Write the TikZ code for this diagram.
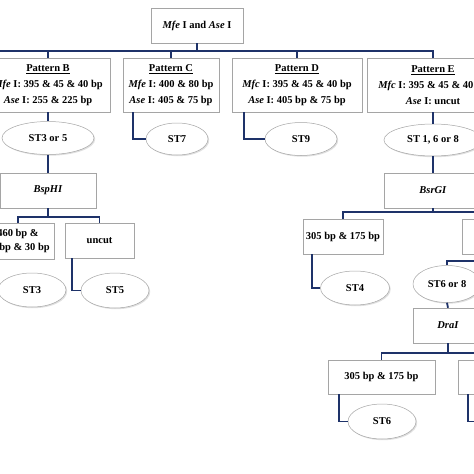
\documentclass[tikz,border=0pt]{standalone}
\usepackage{fontspec}
\setmainfont{Liberation Serif}
\usetikzlibrary{shapes.geometric,shadows}
\definecolor{LinkBlue}{RGB}{30,50,105}
\definecolor{EdgeGray}{RGB}{165,165,165}

\begin{document}
\begin{tikzpicture}[x=1pt,y=-1pt]
		\tikzstyle{Box}		= [rectangle, draw=EdgeGray, line width=0.5pt, fill=white, align=center, inner sep=2pt,
							   drop shadow={opacity=0.25, shadow xshift=1.2pt, shadow yshift=-1.2pt},
							   font=\fontsize{10.5}{16}\selectfont\bfseries]
		\tikzstyle{Oval}	= [ellipse, draw=EdgeGray, line width=0.5pt, fill=white, inner sep=0pt,
							   drop shadow={opacity=0.25, shadow xshift=1.2pt, shadow yshift=-1.2pt},
							   font=\fontsize{10.5}{16}\selectfont\bfseries]
		\tikzstyle{Link}	= [draw=LinkBlue, line width=1.8pt]

		\clip (0,0) rectangle (474,474);
		\fill [white] (0,0) rectangle (474,474);

		% first digestion
		\node (top) at (197,25.5) [Box, minimum width=92, minimum height=35] {\textit{Mfe} I and \textit{Ase} I};
		\coordinate (busA) at (-20,51);

		\node (patB) at (48,85) [Box, minimum width=124, minimum height=54]
			{\underline{Pattern B}\\ \textit{Mfe} I: 395 \& 45 \& 40 bp\\ \textit{Ase} I: 255 \& 225 bp};
		\node (patC) at (171,85) [Box, minimum width=96, minimum height=54]
			{\underline{Pattern C}\\ \textit{Mfe} I: 400 \& 80 bp\\ \textit{Ase} I: 405 \& 75 bp};
		\node (patD) at (297,85) [Box, minimum width=130, minimum height=54]
			{\underline{Pattern D}\\ \textit{Mfc} I: 395 \& 45 \& 40 bp\\ \textit{Ase} I: 405 bp \& 75 bp};
		\node (patE) at (433,85) [Box, minimum width=132, minimum height=54]
			{\underline{Pattern E}\\ \textit{Mfc} I: 395 \& 45 \& 40 bp\\ \textit{Ase} I: uncut};

		\node (st35)  at (48,138)  [Oval, minimum width=92, minimum height=33] {ST3 or 5};
		\node (st7)   at (177,139) [Oval, minimum width=62, minimum height=32] {ST7};
		\node (st9)   at (301,139) [Oval, minimum width=72, minimum height=33] {ST9};
		\node (st168) at (433,140) [Oval, minimum width=98, minimum height=32] {ST 1, 6 or 8};

		\draw (top.south) -- ++(0,8) -| (busA) [Link];
		\draw (top.south) -- ++(0,8) -| (patB.north) [Link];
		\draw (top.south) -- ++(0,8) -| (patC.north) [Link];
		\draw (top.south) -- ++(0,8) -| (patD.north) [Link];
		\draw (top.south) -- ++(0,8) -| (patE.north) [Link];

		\draw (patB.south) -- (st35.north) [Link];
		\draw ([xshift=10pt]patC.south west) |- (st7.west) [Link];
		\draw ([xshift=12pt]patD.south west) |- (st9.west) [Link];
		\draw (patE.south) -- (st168.north) [Link];

		% BspHI branch
		\node (bsp) at (48,190.5) [Box, minimum width=96, minimum height=35] {\textit{BspHI}};
		\node (fragB) at (18,241) [Box, minimum width=72, minimum height=36] {460 bp \&\\[-2pt] 20 bp \& 30 bp};
		\node (fragU) at (99.5,240.5) [Box, minimum width=69, minimum height=35] {uncut};
		\node (st3) at (32,290) [Oval, minimum width=68, minimum height=34] {ST3};
		\node (st5) at (115,290.5) [Oval, minimum width=68, minimum height=35] {ST5};

		\draw (st35.south) -- (bsp.north) [Link];
		\draw (bsp.south) -- ++(0,9) -| (fragB.north) [Link];
		\draw (bsp.south) -- ++(0,9) -| (fragU.north) [Link];
		\draw ([xshift=7pt]fragU.south west) |- (st5.west) [Link];

		% BsrGI branch
		\node (bsr) at (433,190.5) [Box, minimum width=98, minimum height=35] {\textit{BsrGI}};
		\node (frag4) at (343,236.5) [Box, minimum width=80, minimum height=35] {305 bp \& 175 bp};
		\node (frag4R) at (502,236.5) [Box, minimum width=80, minimum height=35] {uncut};
		\node (st4) at (355,288) [Oval, minimum width=69, minimum height=34] {ST4};
		\node (st68) at (447,284) [Oval, minimum width=68, minimum height=37] {ST6 or 8};

		\draw (st168.south) -- (bsr.north) [Link];
		\draw (bsr.south) -- ++(0,4) -| (frag4.north) [Link];
		\draw (bsr.south) -- ++(0,4) -| (frag4R.north) [Link];
		\draw ([xshift=9pt]frag4.south west) |- (st4.west) [Link];
		\draw (frag4R.south) -- ++(0,7) -| (st68.north) [Link];

		% DraI branch
		\node (dra) at (448,325.5) [Box, minimum width=70, minimum height=35] {\textit{DraI}};
		\node (frag6) at (381.5,377) [Box, minimum width=107, minimum height=34] {305 bp \& 175 bp};
		\node (frag6R) at (511.5,377) [Box, minimum width=107, minimum height=34] {uncut};
		\node (st6) at (382,421.5) [Oval, minimum width=68, minimum height=35] {ST6};
		\node (st8) at (512,421.5) [Oval, minimum width=68, minimum height=35] {ST8};

		\draw (st68.south) -- (dra.north) [Link];
		\draw (dra.south) -- ++(0,10) -| (frag6.north) [Link];
		\draw (dra.south) -- ++(0,10) -| (frag6R.north) [Link];
		\draw ([xshift=11pt]frag6.south west) |- (st6.west) [Link];
		\draw ([xshift=10pt]frag6R.south west) |- (st8.west) [Link];
	\end{tikzpicture}
\end{document}
